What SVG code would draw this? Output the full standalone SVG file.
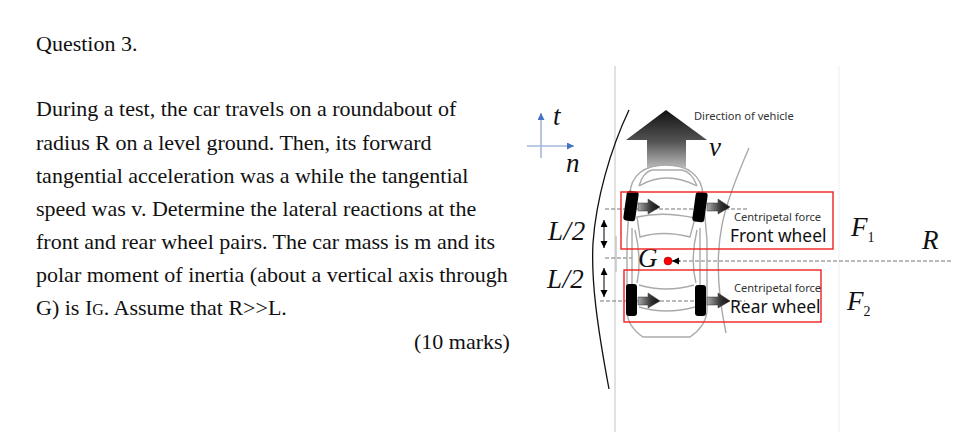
<svg xmlns="http://www.w3.org/2000/svg" width="974" height="432" viewBox="0 0 974 432">
<defs>
<linearGradient id="up" x1="0" y1="0" x2="0" y2="1"><stop offset="0" stop-color="#111"/><stop offset="0.55" stop-color="#555"/><stop offset="1" stop-color="#bbb"/></linearGradient>
<linearGradient id="fa" x1="0" y1="0" x2="1" y2="0"><stop offset="0" stop-color="#aaa"/><stop offset="0.6" stop-color="#333"/><stop offset="1" stop-color="#111"/></linearGradient>
<marker id="h" markerUnits="userSpaceOnUse" markerWidth="8" markerHeight="8" refX="7" refY="3.5" orient="auto-start-reverse"><path d="M0 0L7 3.5L0 7z" fill="#000"/></marker>
<marker id="b" markerUnits="userSpaceOnUse" markerWidth="8" markerHeight="8" refX="7" refY="3.5" orient="auto"><path d="M0 0L7 3.5L0 7z" fill="#4472c4"/></marker>
</defs>
<style>
text{fill:#111}
.q{font:22px "Liberation Serif",serif}
.m{font:italic 27px "Liberation Serif",serif}
.s{font:11.1px "Noto Sans","Open Sans",sans-serif;fill:#333}
.w{font:17.4px "Noto Sans","Open Sans",sans-serif}
.c{fill:none;stroke:#aaa;stroke-width:1.4}
.d{fill:none;stroke:#777;stroke-width:1;stroke-dasharray:4 2}
.r{fill:none;stroke:#f02020;stroke-width:1.4}
.wheel{fill:#000}
.fa{fill:url(#fa);stroke:#333;stroke-width:.5}
</style>
<g id="question">
<text class="q" x="36" y="51">Question 3.</text>
<text class="q" x="36" y="116">During a test, the car travels on a roundabout of</text>
<text class="q" x="36" y="150">radius R on a level ground. Then, its forward</text>
<text class="q" x="36" y="183">tangential acceleration was a while the tangential</text>
<text class="q" x="36" y="216">speed was v. Determine the lateral reactions at the</text>
<text class="q" x="36" y="249">front and rear wheel pairs. The car mass is m and its</text>
<text class="q" x="36" y="282">polar moment of inertia (about a vertical axis through</text>
<text class="q" x="36" y="315">G) is I<tspan font-size="16">G</tspan>. Assume that R&gt;&gt;L.</text>
<text class="q" x="414" y="349">(10 marks)</text>
</g>
<g id="connectors">
<path d="M615 66V432" stroke="#c4c4c4" fill="none"/>
<path d="M616 236V272" stroke="#c4c4c4" stroke-width="1.5" fill="none"/>
<path d="M839 66V432" stroke="#eee" fill="none"/>
<path d="M527 146H574" stroke="#a3b8dc" stroke-width="1.6" fill="none" marker-end="url(#b)"/>
<path d="M541 158V113" stroke="#a3b8dc" stroke-width="1.6" fill="none" marker-end="url(#b)"/>
<path d="M629 110C610 150 596 200 593 243C591 280 597 325 609 389" fill="none" stroke="#111" stroke-width="1.3"/>
<path d="M749 148C735 180 725 210 722 225C716 255 717 290 726 333" class="c"/>
<path class="d" d="M605 209H748"/>
<path class="d" d="M605 258H632"/>
<path class="d" d="M677 261H952"/>
<path class="d" d="M600 301H745"/>
<path d="M604 220V248" stroke="#000" fill="none" marker-start="url(#h)" marker-end="url(#h)"/>
<path d="M604 268V297" stroke="#000" fill="none" marker-start="url(#h)" marker-end="url(#h)"/>
<path d="M680 261H672" stroke="#000" marker-end="url(#h)"/>
</g>
<g id="direction-arrow"><path d="M666 110L707 140H686V168Q666 163 647 168V140H626z" fill="url(#up)"/></g>
<g id="car">
<path class="c" d="M630 195C630 175 645 165 666 165C687 165 702 175 703 195L707 240V312Q705 327 690 337H643Q628 327 627 312V240z"/>
<path class="c" d="M632 228V290M700 228V290"/>
<path class="c" d="M639 186Q643 172 652 170H682Q692 172 697 186M639 186Q666 170 697 186"/>
<path class="c" d="M637 217Q663 211 695 218L690 237Q663 230 640 237zM635 230Q642 260 637 283M697 230Q690 260 696 283"/>
<path class="c" d="M639 285Q666 293 694 285M639 307Q666 315 695 307"/>
</g>
<g id="wheels">
<rect class="wheel" x="625" y="191" width="12" height="30" rx="3" transform="rotate(8 631 206)"/>
<rect class="wheel" x="694" y="192" width="12" height="30" rx="3" transform="rotate(8 700 207)"/>
<rect class="wheel" x="626" y="284" width="11" height="32" rx="3"/>
<rect class="wheel" x="695" y="285" width="11" height="31" rx="3"/>
<path class="fa" d="M638 203H648V199L660 207L648 214V211H638z"/>
<path class="fa" d="M707 203H718V199L730 207L718 214V211H707z"/>
<path class="fa" d="M638 297H648V293L660 301L648 308V305H638z"/>
<path class="fa" d="M707 297H718V293L730 301L718 308V305H707z"/>
</g>
<g id="labels">
<circle cx="668" cy="261" r="4" fill="#f00" stroke="#800" stroke-width=".5"/>
<text class="m" x="553" y="125">t</text>
<text class="m" x="566" y="172">n</text>
<text class="m" x="709" y="156">v</text>
<text class="m" x="548" y="240" letter-spacing=".6">L/2</text>
<text class="m" x="547" y="288" letter-spacing=".4">L/2</text>
<text class="m" x="638" y="267">G</text>
<text class="m" x="851" y="236">F<tspan font-size="14" font-style="normal" dy="6">1</tspan></text>
<text class="m" x="847" y="310">F<tspan font-size="14" font-style="normal" dy="6">2</tspan></text>
<text class="m" x="922" y="249">R</text>
<text class="s" x="694" y="120">Direction of vehicle</text>
</g>
<g id="front-box"><rect class="r" x="621" y="192" width="212" height="57"/>
<text class="s" x="734" y="221">Centripetal force</text><text class="w" x="730" y="242">Front wheel</text></g>
<g id="rear-box"><rect class="r" x="624" y="270" width="197" height="52"/>
<text class="s" x="734" y="292">Centripetal force</text><text class="w" x="730" y="313">Rear wheel</text></g>
</svg>
